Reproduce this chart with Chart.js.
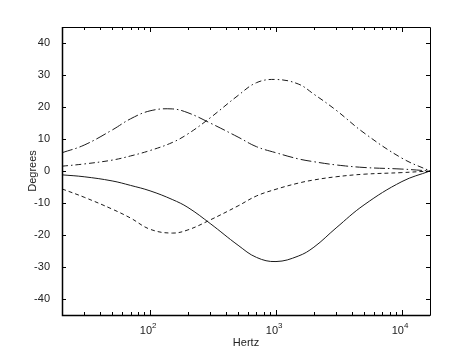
<!DOCTYPE html>
<html>
<head>
<meta charset="utf-8">
<script src="https://cdn.jsdelivr.net/npm/chart.js@4"></script>
<style>
  html, body { margin: 0; padding: 0; background: #fff; }
  #wrap { width: 474px; height: 354px; }
</style>
</head>
<body>
<div id="wrap"><canvas id="phaseChart" width="474" height="354"></canvas></div>
<script>
// frequencies (Hz)
const freqs = [20, 30, 50, 70, 100, 150, 200, 300, 500, 700, 1000, 1500, 2000, 3000, 5000, 10000, 16700];

// phase in degrees for each curve
const cut1k = [-1.2, -1.8, -3.1, -4.5, -6.2, -8.9, -11.4, -16.4, -23.2, -27, -28.3, -26.6, -23.8, -17.8, -10.6, -3.3, 0];
const cut150 = [-5.6, -8.2, -11.9, -14.7, -18.2, -19.4, -18.4, -15.3, -10.9, -7.8, -5.7, -3.8, -2.8, -1.8, -1, -0.5, 0];
const boost150 = [5.7, 8.1, 12.8, 16.3, 18.8, 19.4, 18.2, 15, 10.6, 7.6, 5.7, 3.8, 2.9, 1.9, 1.1, 0.6, 0];
const boost1k = [1.5, 2.2, 3.4, 4.7, 6.4, 8.9, 11.6, 16.6, 23.6, 27.6, 28.6, 27.2, 24, 19, 11.9, 4, 0];

const yTicks = [-40, -30, -20, -10, 0, 10, 20, 30, 40];
const decades = [2, 3, 4];
const minorX = [20, 30, 40, 50, 60, 70, 80, 90, 100, 200, 300, 400, 500, 600, 700, 800, 900,
                1000, 2000, 3000, 4000, 5000, 6000, 7000, 8000, 9000, 10000];

const FONT = '"Liberation Sans", Arial, sans-serif';

function pts(vals) {
    return freqs.map((f, i) => ({ x: f, y: vals[i] }));
}

function line(vals, dash) {
    return {
        data: pts(vals),
        borderColor: '#1a1a1a',
        borderWidth: 1,
        borderDash: dash,
        pointRadius: 0,
        fill: false,
        tension: 0.4
    };
}

// box, inward ticks, x labels with exponents and axis titles
const matlabAxes = {
    id: 'matlabAxes',
    afterDraw(chart) {
        const ctx = chart.ctx;
        const a = chart.chartArea;
        const xs = chart.scales.x;
        const ys = chart.scales.y;
        ctx.save();
        ctx.strokeStyle = '#000';
        ctx.lineWidth = 1;
        ctx.beginPath();
        ctx.rect(Math.round(a.left) + 0.5, Math.round(a.top) + 0.5,
                 Math.round(a.right - a.left), Math.round(a.bottom - a.top));
        ctx.stroke();
        // slightly heavier left and bottom edges
        ctx.lineWidth = 1.5;
        ctx.beginPath();
        ctx.moveTo(Math.round(a.left) + 0.5, a.top);
        ctx.lineTo(Math.round(a.left) + 0.5, Math.round(a.bottom) + 0.5);
        ctx.lineTo(a.right, Math.round(a.bottom) + 0.5);
        ctx.stroke();

        ctx.lineWidth = 1;
        ctx.beginPath();
        minorX.forEach(f => {
            const px = Math.round(xs.getPixelForValue(f)) + 0.5;
            const len = decades.some(d => Math.pow(10, d) === f) ? 5 : 3;
            ctx.moveTo(px, a.bottom); ctx.lineTo(px, a.bottom - len);
            ctx.moveTo(px, a.top); ctx.lineTo(px, a.top + len);
        });
        yTicks.forEach(v => {
            const py = Math.round(ys.getPixelForValue(v)) + 0.5;
            ctx.moveTo(a.left, py); ctx.lineTo(a.left + 4, py);
            ctx.moveTo(a.right, py); ctx.lineTo(a.right - 4, py);
        });
        ctx.stroke();

        ctx.fillStyle = '#222';
        decades.forEach(d => {
            const px = xs.getPixelForValue(Math.pow(10, d));
            ctx.font = '11px ' + FONT;
            ctx.textAlign = 'right';
            ctx.textBaseline = 'alphabetic';
            ctx.fillText('10', px + 2, a.bottom + 19);
            ctx.font = '8px ' + FONT;
            ctx.textAlign = 'left';
            ctx.fillText(String(d), px + 2, a.bottom + 13);
        });

        ctx.font = '11px ' + FONT;
        ctx.textAlign = 'center';
        ctx.textBaseline = 'middle';
        ctx.fillText('Hertz', (a.left + a.right) / 2, a.bottom + 28);
        ctx.translate(33, (a.top + a.bottom) / 2);
        ctx.rotate(-Math.PI / 2);
        ctx.fillText('Degrees', 0, 0);
        ctx.restore();
    }
};

new Chart(document.getElementById('phaseChart').getContext('2d'), {
    type: 'line',
    data: {
        datasets: [
            line(cut1k, []),
            line(cut150, [4, 3]),
            line(boost150, [11, 3, 1.5, 3]),
            line(boost1k, [6, 3, 1.5, 3])
        ]
    },
    options: {
        responsive: false,
        animation: false,
        layout: { padding: { left: 0, top: 27, right: 44, bottom: 0 } },
        plugins: { legend: { display: false }, tooltip: { enabled: false } },
        scales: {
            x: {
                type: 'logarithmic',
                min: 20,
                max: 16700,
                grid: { display: false },
                border: { display: false },
                ticks: { display: false },
                afterFit: s => { s.height = 39; }
            },
            y: {
                min: -45,
                max: 45,
                grid: { display: false },
                border: { display: false },
                afterBuildTicks: s => { s.ticks = yTicks.map(v => ({ value: v })); },
                ticks: { color: '#222', padding: 4, font: { family: FONT, size: 11 } },
                afterFit: s => { s.width = 62; }
            }
        }
    },
    plugins: [matlabAxes]
});
</script>
</body>
</html>
